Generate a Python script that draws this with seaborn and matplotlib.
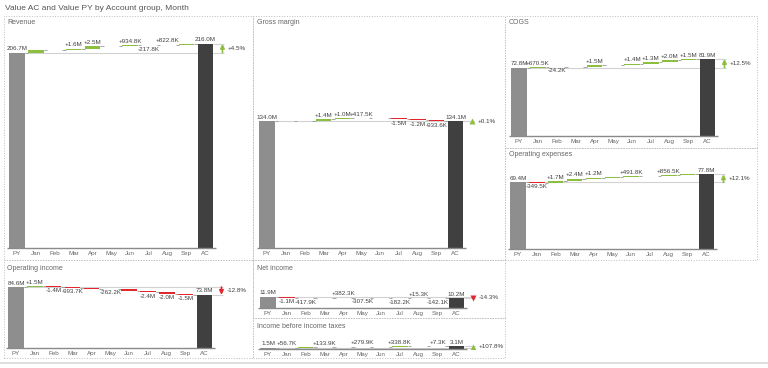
import matplotlib
matplotlib.use("Agg")
import matplotlib.pyplot as plt
from matplotlib.patches import Rectangle
from matplotlib.lines import Line2D
import seaborn as sns
import numpy as np
import pandas as pd

sns.set_theme(style="white")
plt.rcParams['font.family'] = ['Liberation Sans', 'DejaVu Sans']

W, H = 768, 368

months = ['Jan', 'Feb', 'Mar', 'Apr', 'May', 'Jun', 'Jul', 'Aug', 'Sep']
categories = ['PY'] + months + ['AC']

# values in millions, monthly change vs previous year
revenue_py = 206.7
revenue_months = [2.5, 0.2, 1.6, 2.5, 0.3, 0.9348, -0.2178, 0.8228, 0.66]
revenue_hidden = ['Jan', 'Feb', 'May', 'Sep']

gross_py = 134.0
gross_months = [0.6, 0.1, 1.4, 1.0, 0.4175, 0.2, -1.5, -1.2, -0.9336]
gross_hidden = ['Jan', 'Feb', 'Jun']

cogs_py = 72.8
cogs_months = [0.6705, -0.0242, 0.15, 1.5, 0.6, 1.4, 1.3, 2.0, 1.5]
cogs_hidden = ['Mar', 'May']

opex_py = 69.4
opex_months = [-0.3495, 1.7, 2.4, 1.2, 0.7, 0.4918, 0.6, 0.8565, 0.8]
opex_hidden = ['May', 'Jul', 'Sep']

opinc_py = 84.6
opinc_months = [1.5, -1.4, -0.9937, -1.5, -0.2622, -2.24, -2.4, -2.0, -1.5]
opinc_hidden = ['Apr', 'Jun']

netinc_py = 11.9
netinc_months = [-1.1, -0.4179, 0.1, 0.3823, -0.3075, -0.05, -0.1822, 0.0153, -0.1421]
netinc_hidden = ['Mar', 'Jun']

ibt_py = 1.5
ibt_months = [0.0567, 0.2, 0.1339, 0.2, 0.2799, 0.2, 0.3388, 0.2004, 0.0073]
ibt_hidden = ['Feb', 'Apr', 'Jun', 'Aug']

GREEN = '#8cbf3f'
RED = '#e0282e'
PY_GRAY = '#8e8e8e'
AC_DARK = '#404040'
TEXT = '#404040'
STEP = 18.85


def fmt_delta(v):
    if abs(v) >= 1:
        return f"{v:+.1f}M"
    return f"{v * 1000:+.1f}K"


def px_axes(fig, left, top, right, bottom):
    return fig.add_axes([left / W, 1 - bottom / H, (right - left) / W, (bottom - top) / H])


def waterfall(fig, py, deltas, hidden, x0, base_px, top_px, scale):
    ax = px_axes(fig, x0 - 0.55 * STEP, top_px, x0 + 12.5 * STEP, base_px)
    cum = py + np.concatenate([[0], np.cumsum(deltas)])
    ac = cum[-1]
    heights = [py] + list(deltas) + [ac]
    bases = [0] + list(cum[:-1]) + [0]
    df = pd.DataFrame({'cat': categories, 'height': heights, 'base': bases})
    sns.barplot(data=df, x='cat', y='height', order=categories,
                bottom=df['base'].to_numpy(), width=0.82, errorbar=None,
                color=PY_GRAY, ax=ax, zorder=3)
    colors = [PY_GRAY] + [GREEN if d > 0 else RED for d in deltas] + [AC_DARK]
    for patch, c in zip(ax.patches, colors):
        patch.set_facecolor(c)
        patch.set_edgecolor('none')

    n = len(categories)
    arrow_x = n - 1 + 0.9
    # connectors and reference lines
    ax.hlines(cum, np.arange(n - 1) + 0.41, np.arange(n - 1) + 0.59,
              color='#9a9a9a', lw=0.6, zorder=2)
    ax.hlines(py, 0.41, arrow_x + 0.1, color='#d2d2d2', lw=0.8, zorder=1)
    ax.hlines(ac, n - 1 + 0.41, arrow_x + 0.1, color='#d2d2d2', lw=0.8, zorder=1)
    ax.hlines(0, -0.55, n - 0.45, color='#8a8a8a', lw=1.0, zorder=4, clip_on=False)

    # value labels
    lab = dict(fontsize=4.5, color=TEXT, ha='center', textcoords='offset points')
    ax.annotate(f"{py:.1f}M", (0, py), xytext=(0, 1), va='bottom', **lab)
    ax.annotate(f"{ac:.1f}M", (n - 1, ac), xytext=(0, 1), va='bottom', **lab)
    for i, (m, d) in enumerate(zip(months, deltas), start=1):
        if m in hidden:
            continue
        if d > 0:
            ax.annotate(fmt_delta(d), (i, cum[i]), xytext=(0, 1), va='bottom', **lab)
        else:
            ax.annotate(fmt_delta(d), (i, cum[i]), xytext=(0, -1), va='top', **lab)

    # variance vs PY
    pct = (ac - py) / py * 100
    vc = GREEN if pct > 0 else RED
    if abs(ac - py) * scale > 6:
        ax.annotate('', xy=(arrow_x, ac), xytext=(arrow_x, py),
                    arrowprops=dict(arrowstyle='-|>', color=vc, lw=1.2,
                                    mutation_scale=6, shrinkA=0, shrinkB=0))
    else:
        ax.plot([arrow_x], [(ac + py) / 2], marker='^' if pct > 0 else 'v',
                color=vc, ms=4, mec='none', zorder=5)
    ax.text(arrow_x + 0.3, (ac + py) / 2, f"{pct:+.1f}%", fontsize=4.5,
            color=TEXT, va='center', ha='left')

    ax.set_xlim(-0.55, 12.5)
    ax.set_ylim(0, (base_px - top_px) / scale)
    ax.set_xlabel('')
    ax.set_ylabel('')
    ax.set_yticks([])
    ax.tick_params(axis='x', length=0, pad=2.2, labelsize=4.5, labelcolor='#666666')
    ax.set_facecolor('none')
    sns.despine(ax=ax, left=True, bottom=True)
    return ax


fig = plt.figure(figsize=(W / 100, H / 100), dpi=100)

fig.text(5 / W, 1 - 9 / H, 'Value AC and Value PY by Account group, Month',
         fontsize=6, color='#555555', va='center')

# title, py, deltas, hidden, box(l,t,r,b), title pos, x0, baseline, top, px per M
panels = [
    ('Revenue', revenue_py, revenue_months, revenue_hidden,
     (4, 16, 253, 260), (7, 23), 17, 248, 30, 0.945),
    ('Gross margin', gross_py, gross_months, gross_hidden,
     (253, 16, 505, 260), (257, 23), 267, 248, 100, 0.945),
    ('COGS', cogs_py, cogs_months, cogs_hidden,
     (505, 16, 757, 148), (509, 23), 519, 136, 40, 0.94),
    ('Operating expenses', opex_py, opex_months, opex_hidden,
     (505, 148, 757, 260), (509, 155), 518, 249, 160, 0.96),
    ('Operating income', opinc_py, opinc_months, opinc_hidden,
     (4, 260, 253, 358), (7, 268), 16, 348, 275, 0.72),
    ('Net income', netinc_py, netinc_months, netinc_hidden,
     (253, 260, 505, 318), (257, 268), 268, 308, 280, 0.95),
    ('Income before income taxes', ibt_py, ibt_months, ibt_hidden,
     (253, 318, 505, 358), (257, 326), 268, 349, 336, 0.95),
]

for title, py, deltas, hidden, box, tpos, x0, base_px, top_px, scale in panels:
    l, t, r, b = box
    fig.add_artist(Rectangle((l / W, 1 - b / H), (r - l) / W, (b - t) / H,
                             transform=fig.transFigure, fill=False, ls=':',
                             ec='#bdbdbd', lw=0.7))
    fig.text(tpos[0] / W, 1 - tpos[1] / H, title, fontsize=5, color='#666666', va='center')
    waterfall(fig, py, deltas, hidden, x0, base_px, top_px, scale)

# report canvas bottom edge
fig.add_artist(Line2D([0, 1], [1 - 363 / H, 1 - 363 / H], transform=fig.transFigure,
                      color='#d8d8d8', lw=1.2))

fig.savefig('out.png', dpi=100)
